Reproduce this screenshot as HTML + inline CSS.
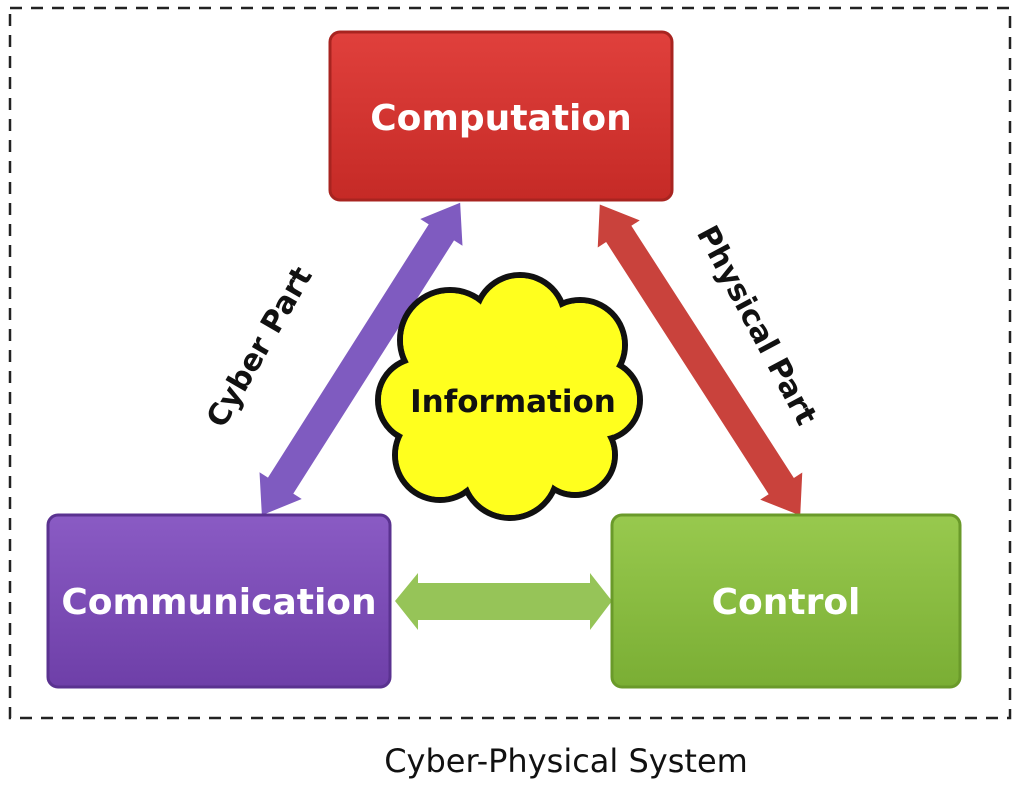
<!DOCTYPE html>
<html><head><meta charset="utf-8"><style>
body{margin:0;background:#fff}
svg{display:block}
text{font-family:"Comic Sans MS","DejaVu Sans","Liberation Sans",sans-serif;font-weight:bold}
</style></head><body>
<svg width="1024" height="788" viewBox="0 0 1024 788" xmlns="http://www.w3.org/2000/svg">
<defs>
<linearGradient id="gr" x1="0" y1="0" x2="0" y2="1"><stop offset="0" stop-color="#e0403c"/><stop offset="1" stop-color="#c52a26"/></linearGradient>
<linearGradient id="gp" x1="0" y1="0" x2="0" y2="1"><stop offset="0" stop-color="#8a5bc4"/><stop offset="1" stop-color="#6e3fa8"/></linearGradient>
<linearGradient id="gg" x1="0" y1="0" x2="0" y2="1"><stop offset="0" stop-color="#98c94e"/><stop offset="1" stop-color="#7aae34"/></linearGradient>
</defs>
<rect x="10" y="8" width="1000" height="710" fill="none" stroke="#222" stroke-width="2.5" stroke-dasharray="12 9"/>
<polygon transform="translate(361,359) rotate(-57.6)" points="-185,0 -150,-25 -150,-15 150,-15 150,-25 185,0 150,25 150,15 -150,15 -150,25" fill="#7f5bc0"/>
<polygon transform="translate(700,360) rotate(57.2)" points="-185,0 -150,-25 -150,-15 150,-15 150,-25 185,0 150,25 150,15 -150,15 -150,25" fill="#c9423c"/>
<polygon points="395,601 418,573 418,583 590,583 590,573 612,601 590,630 590,620 418,620 418,630" fill="#96c458"/>
<rect x="330" y="32" width="342" height="168" rx="10" fill="url(#gr)" stroke="#a82420" stroke-width="3"/>
<rect x="48" y="515" width="342" height="172" rx="10" fill="url(#gp)" stroke="#5a3290" stroke-width="3"/>
<rect x="612" y="515" width="348" height="172" rx="10" fill="url(#gg)" stroke="#6a9a2a" stroke-width="3"/>
<text x="501" y="130" font-size="36" fill="#fff" text-anchor="middle">Computation</text>
<text x="219" y="614" font-size="36" fill="#fff" text-anchor="middle">Communication</text>
<text x="786" y="614" font-size="36" fill="#fff" text-anchor="middle">Control</text>
<g stroke="#111" stroke-width="6" fill="#ffff1e">
<circle cx="450" cy="340" r="50"/><circle cx="520" cy="320" r="45"/><circle cx="580" cy="345" r="45"/>
<circle cx="600" cy="400" r="40"/><circle cx="420" cy="400" r="42"/><circle cx="440" cy="455" r="45"/>
<circle cx="510" cy="470" r="48"/><circle cx="575" cy="455" r="40"/>
</g>
<g fill="#ffff1e">
<circle cx="450" cy="340" r="47"/><circle cx="520" cy="320" r="42"/><circle cx="580" cy="345" r="42"/>
<circle cx="600" cy="400" r="37"/><circle cx="420" cy="400" r="39"/><circle cx="440" cy="455" r="42"/>
<circle cx="510" cy="470" r="45"/><circle cx="575" cy="455" r="37"/>
<circle cx="510" cy="400" r="70"/>
</g>
<text x="513" y="412" font-size="31" fill="#111" text-anchor="middle">Information</text>
<text transform="translate(268,352) rotate(-60)" font-size="30" fill="#111" text-anchor="middle">Cyber Part</text>
<text transform="translate(748,330) rotate(62)" font-size="30" fill="#111" text-anchor="middle">Physical Part</text>
<text x="566" y="772" font-size="32" fill="#111" text-anchor="middle" style="font-weight:normal">Cyber-Physical System</text>
</svg>
</body></html>
